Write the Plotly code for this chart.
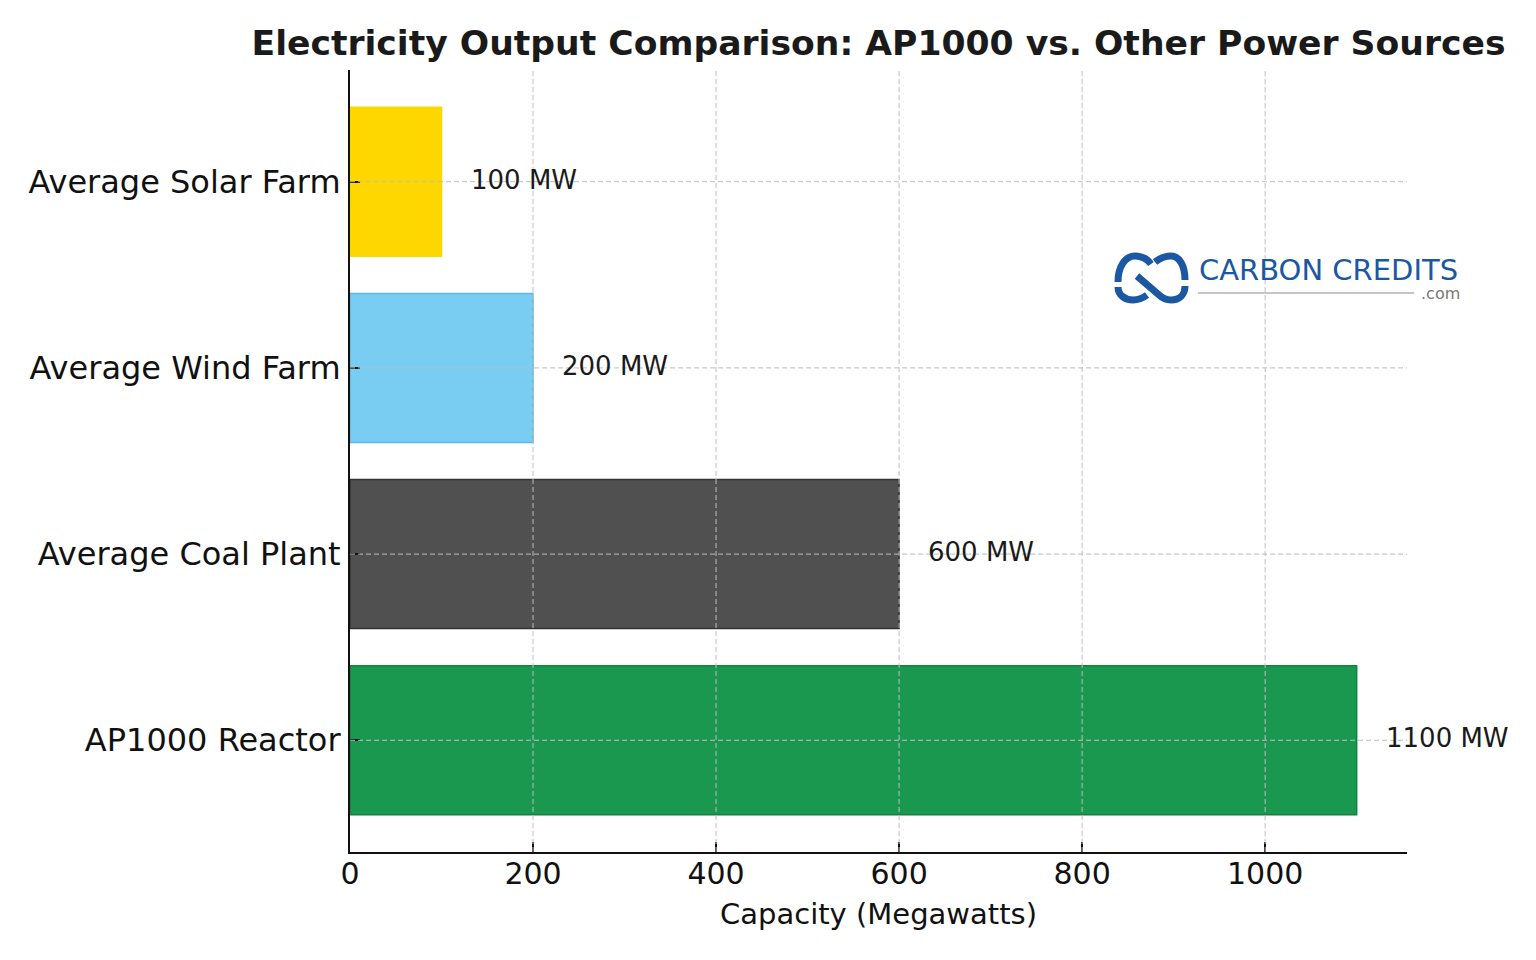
import plotly.graph_objects as go

categories = ["AP1000 Reactor", "Average Coal Plant", "Average Wind Farm", "Average Solar Farm"]
capacity_mw = [1100, 600, 200, 100]
bar_colors = ["#1A9850", "#505050", "#7ACDF2", "#FFD700"]
edge_colors = ["#14823F", "#333333", "#5CB8E6", "#FFD700"]
x_ticks = [0, 200, 400, 600, 800, 1000]
title_text = "Electricity Output Comparison: AP1000 vs. Other Power Sources"
x_title = "Capacity (Megawatts)"

FONT = "DejaVu Sans"
W, H = 1536, 960
L, R, T, B = 350, 129, 70, 108
PW, PH = W - L - R, H - T - B

def px_to_paper(px, py):
    return (px - L) / PW, (H - B - py) / PH

fig = go.Figure()
fig.add_trace(go.Bar(
    y=categories, x=capacity_mw, orientation="h", width=0.8,
    marker=dict(color=bar_colors, line=dict(color=edge_colors, width=1.5)),
    hoverinfo="skip", showlegend=False,
))

shapes = []
grid_style = dict(color="#BDBDBD", width=1, dash="5px,3px")
for t in x_ticks[1:]:
    shapes.append(dict(type="line", xref="x", yref="paper", x0=t, x1=t, y0=0, y1=1,
                       line=grid_style, layer="above"))
for c in categories:
    shapes.append(dict(type="line", xref="paper", yref="y", x0=0, x1=1, y0=c, y1=c,
                       line=grid_style, layer="above"))

annotations = []
for c, v in zip(categories, capacity_mw):
    annotations.append(dict(x=v, y=c, xref="x", yref="y", text=f"{v} MW", showarrow=False,
                            xanchor="left", yanchor="middle", xshift=27, yshift=2,
                            font=dict(family=FONT, size=26, color="#1a1a1a")))

# Logo (CarbonCredits.com)
ax, ay = px_to_paper(1108, 245)
logo_blue = "#1B57A3"

def path_from(cmds):
    out = []
    for cmd in cmds:
        if isinstance(cmd, str):
            out.append(cmd)
        else:
            out.append(f"{cmd[0]},{-cmd[1]}")
    return " ".join(out)

icon = [
    ["M", (10, 37), "C", (10, 22), (17, 11), (27, 11), "C", (35, 11), (40, 15), (43, 19)],
    ["M", (47, 17), "C", (52, 13), (57, 11), (63, 11), "C", (71, 11), (77, 20), (77, 35)],
    ["M", (77, 41), "C", (77, 50), (71, 55), (63, 55), "C", (58, 55), (54, 53), (50, 49), "L", (29, 31)],
    ["M", (10, 42), "C", (10, 50), (17, 55), (25, 55), "C", (31, 55), (35, 53), (39, 50)],
]
for cmds in icon:
    shapes.append(dict(type="path", xref="paper", yref="paper", xsizemode="pixel", ysizemode="pixel",
                       xanchor=ax, yanchor=ay, path=path_from(cmds),
                       line=dict(color=logo_blue, width=7), layer="above"))
lx0, ly = px_to_paper(1198, 293)
lx1, _ = px_to_paper(1414, 293)
shapes.append(dict(type="line", xref="paper", yref="paper", x0=lx0, x1=lx1, y0=ly, y1=ly,
                   line=dict(color="#8C8C8C", width=1.2), layer="above"))
tx, ty = px_to_paper(1197, 270)
annotations.append(dict(x=tx, y=ty, xref="paper", yref="paper", text="CARBON CREDITS", showarrow=False,
                        xanchor="left", yanchor="middle",
                        font=dict(family="DejaVu Sans", size=29, color=logo_blue)))
cx, cy = px_to_paper(1462, 293)
annotations.append(dict(x=cx, y=cy, xref="paper", yref="paper", text=".com", showarrow=False,
                        xanchor="right", yanchor="middle",
                        font=dict(family="DejaVu Sans", size=16, color="#777777")))

fig.update_layout(
    width=W, height=H,
    margin=dict(l=L, r=R, t=T, b=B, pad=0),
    paper_bgcolor="white", plot_bgcolor="white",
    font=dict(family=FONT, color="#111111"),
    title=dict(text=f"<b>{title_text}</b>", x=0.5, xref="paper", xanchor="center",
               y=1 - 43 / H, yref="container", yanchor="middle",
               font=dict(family=FONT, size=34.6, color="#1a1a1a")),
    bargap=0.2,
    shapes=shapes,
    annotations=annotations,
)
fig.update_xaxes(
    range=[0, 1155], tickvals=x_ticks, ticktext=[str(t) for t in x_ticks],
    showgrid=False, zeroline=False,
    showline=True, linecolor="#111111", linewidth=2,
    ticks="inside", ticklen=10, tickwidth=1.5, tickcolor="#111111",
    tickfont=dict(family=FONT, size=30, color="#111111"),
    ticklabelstandoff=-6,
    title=dict(text=x_title, font=dict(family=FONT, size=29, color="#111111"), standoff=14),
)
fig.update_yaxes(
    range=[-0.6, 3.6], categoryorder="array", categoryarray=categories,
    showgrid=False, zeroline=False,
    showline=True, linecolor="#111111", linewidth=2,
    ticks="inside", ticklen=10, tickwidth=1.5, tickcolor="#111111",
    tickfont=dict(family=FONT, size=32, color="#111111"),
    ticklabelstandoff=1,
)

fig.write_html("out.html")
